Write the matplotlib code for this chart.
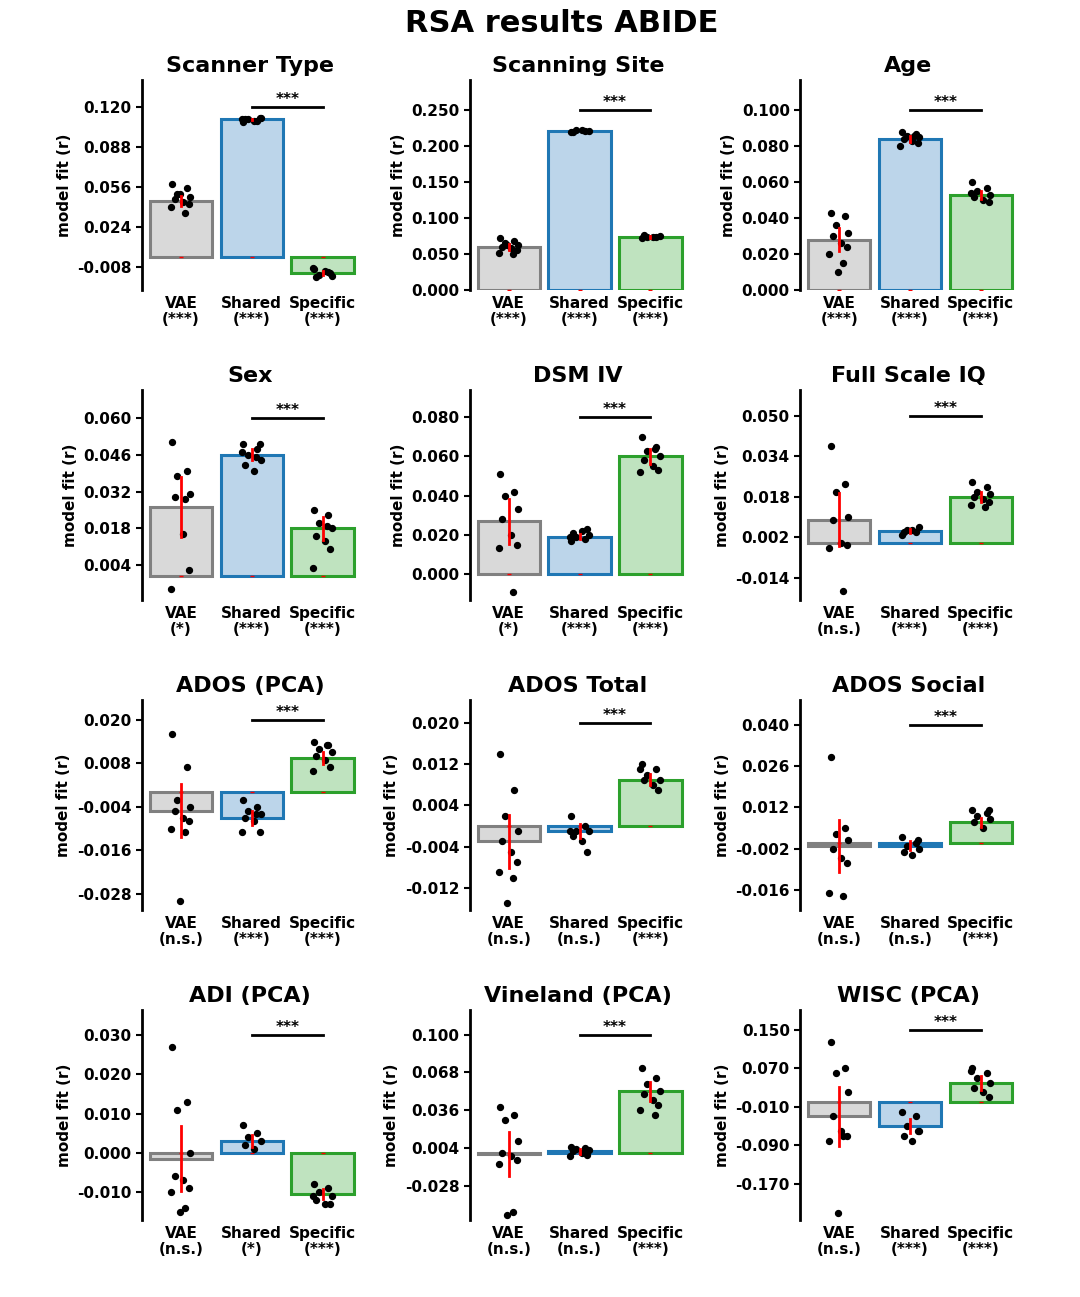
import numpy as np
import matplotlib
matplotlib.use("Agg")
import matplotlib.pyplot as plt

plt.rcParams['font.family'] = 'DejaVu Sans'
plt.rcParams['font.weight'] = 'bold'

titles = ["Scanner Type", "Scanning Site", "Age", "Sex", "DSM IV", "Full Scale IQ",
          "ADOS (PCA)", "ADOS Total", "ADOS Social", "ADI (PCA)", "Vineland (PCA)", "WISC (PCA)"]
categories = ["VAE", "Shared", "Specific"]

means = [[0.045, 0.110, -0.0125], [0.060, 0.221, 0.074], [0.028, 0.084, 0.053],
         [0.026, 0.046, 0.018], [0.027, 0.019, 0.060], [0.009, 0.0045, 0.018],
         [-0.005, -0.007, 0.0095], [-0.003, -0.001, 0.009], [-0.001, -0.001, 0.007],
         [-0.0015, 0.003, -0.0105], [-0.001, 0.001, 0.052], [-0.030, -0.050, 0.040]]

points = [
    [[0.058, 0.055, 0.050, 0.048, 0.046, 0.044, 0.042, 0.040, 0.035, 0.050],
     [0.108, 0.109, 0.110, 0.111, 0.110, 0.109, 0.111, 0.110],
     [-0.010, -0.012, -0.014, -0.015, -0.016, -0.011, -0.013, -0.009]],
    [[0.072, 0.068, 0.065, 0.062, 0.060, 0.058, 0.055, 0.052, 0.050, 0.063],
     [0.220, 0.221, 0.222, 0.221, 0.220, 0.222],
     [0.072, 0.073, 0.074, 0.075, 0.076, 0.074]],
    [[0.043, 0.041, 0.036, 0.032, 0.030, 0.026, 0.024, 0.020, 0.015, 0.010],
     [0.088, 0.087, 0.086, 0.085, 0.084, 0.083, 0.082, 0.080, 0.086],
     [0.060, 0.057, 0.055, 0.053, 0.052, 0.050, 0.049, 0.054]],
    [[0.051, 0.040, 0.038, 0.031, 0.030, 0.016, 0.002, -0.005, 0.029],
     [0.050, 0.048, 0.046, 0.044, 0.042, 0.040, 0.050, 0.047, 0.045],
     [0.025, 0.023, 0.020, 0.018, 0.015, 0.013, 0.010, 0.003, 0.019]],
    [[0.051, 0.042, 0.040, 0.033, 0.028, 0.020, 0.015, 0.013, -0.009],
     [0.017, 0.018, 0.019, 0.020, 0.021, 0.022, 0.023, 0.019],
     [0.070, 0.065, 0.063, 0.060, 0.058, 0.055, 0.053, 0.052, 0.064]],
    [[0.038, 0.023, 0.020, 0.010, 0.009, 0.000, -0.001, -0.002, -0.019],
     [0.003, 0.004, 0.005, 0.006, 0.004, 0.005],
     [0.024, 0.022, 0.020, 0.019, 0.018, 0.017, 0.016, 0.015, 0.014]],
    [[0.016, 0.007, -0.002, -0.004, -0.005, -0.007, -0.008, -0.010, -0.011, -0.030],
     [-0.002, -0.004, -0.005, -0.006, -0.007, -0.008, -0.011, -0.011, -0.006],
     [0.014, 0.013, 0.012, 0.011, 0.010, 0.009, 0.007, 0.006, 0.013]],
    [[0.014, 0.007, 0.002, -0.001, -0.003, -0.005, -0.007, -0.009, -0.010, -0.015],
     [0.002, 0.000, -0.001, -0.001, -0.002, -0.003, -0.005, -0.001],
     [0.012, 0.011, 0.010, 0.009, 0.009, 0.008, 0.007, 0.011]],
    [[0.029, 0.005, 0.003, 0.001, -0.002, -0.005, -0.007, -0.017, -0.018],
     [0.002, 0.000, -0.001, -0.002, -0.003, -0.004, 0.001],
     [0.011, 0.010, 0.009, 0.008, 0.007, 0.005, 0.011]],
    [[0.027, 0.013, 0.011, 0.000, -0.006, -0.007, -0.009, -0.010, -0.014, -0.015],
     [0.007, 0.005, 0.004, 0.003, 0.002, 0.001],
     [-0.008, -0.009, -0.010, -0.011, -0.012, -0.013, -0.013, -0.011]],
    [[0.039, 0.032, 0.028, 0.010, 0.000, -0.003, -0.006, -0.010, -0.050, -0.053],
     [0.005, 0.004, 0.003, 0.002, 0.001, 0.000, -0.002, -0.003],
     [0.072, 0.063, 0.058, 0.052, 0.050, 0.045, 0.040, 0.036, 0.032]],
    [[0.125, 0.070, 0.060, 0.020, -0.030, -0.060, -0.070, -0.080, -0.070, -0.230],
     [-0.020, -0.030, -0.050, -0.060, -0.070, -0.080, -0.060],
     [0.070, 0.060, 0.050, 0.040, 0.030, 0.020, 0.010, 0.065]],
]

yticks = [[-0.008, 0.024, 0.056, 0.088, 0.120], [0.0, 0.05, 0.10, 0.15, 0.20, 0.25],
          [0.0, 0.02, 0.04, 0.06, 0.08, 0.10], [0.004, 0.018, 0.032, 0.046, 0.060],
          [0.0, 0.02, 0.04, 0.06, 0.08], [-0.014, 0.002, 0.018, 0.034, 0.050],
          [-0.028, -0.016, -0.004, 0.008, 0.020], [-0.012, -0.004, 0.004, 0.012, 0.020],
          [-0.016, -0.002, 0.012, 0.026, 0.040], [-0.01, 0.0, 0.01, 0.02, 0.03],
          [-0.028, 0.004, 0.036, 0.068, 0.100], [-0.17, -0.09, -0.01, 0.07, 0.15]]
ylims = [(-0.0264, 0.1416), (0.0, 0.292), (0.0, 0.117), (-0.0093, 0.0707),
         (-0.0133, 0.094), (-0.0227, 0.0603), (-0.0324, 0.0255), (-0.0163, 0.0245),
         (-0.0228, 0.0485), (-0.0171, 0.0364), (-0.057, 0.121), (-0.245, 0.1916)]
sig_y = [0.120, 0.250, 0.100, 0.060, 0.080, 0.050, 0.020, 0.020, 0.040, 0.030, 0.100, 0.150]
sig = [["***", "***", "***"], ["***", "***", "***"], ["***", "***", "***"],
       ["*", "***", "***"], ["*", "***", "***"], ["n.s.", "***", "***"],
       ["n.s.", "***", "***"], ["n.s.", "n.s.", "***"], ["n.s.", "n.s.", "***"],
       ["n.s.", "*", "***"], ["n.s.", "n.s.", "***"], ["n.s.", "***", "***"]]

fills = ["#d9d9d9", "#bcd5ea", "#bfe3bf"]
edges = ["#808080", "#1f77b4", "#2ca02c"]
jit = [-0.12, 0.08, -0.05, 0.13, -0.09, 0.03, 0.11, -0.14, 0.06, -0.02]

fig = plt.figure(figsize=(10.8, 12.97), dpi=100)
fig.text(0.52, 0.982, "RSA results ABIDE", ha="center", va="center", fontsize=22, fontweight="bold")
lefts = [0.1315, 0.435, 0.741]
bottoms = [0.7764, 0.5374, 0.2984, 0.0594]

for i in range(12):
    r, c = divmod(i, 3)
    ax = fig.add_axes([lefts[c], bottoms[r], 0.2, 0.162])
    xs = np.arange(3)
    ax.bar(xs, means[i], width=0.88, color=fills, edgecolor=edges, linewidth=2.2, zorder=1)
    for k in range(3):
        p = np.array(points[i][k])
        xj = k + np.array(jit[:len(p)])
        ax.scatter(xj, p, s=18, color="black", zorder=3)
        err = 2 * p.std() / np.sqrt(len(p))
        ax.plot([k, k], [means[i][k] - err, means[i][k] + err], color="red", lw=2, zorder=4)
        ax.plot([k], [0], marker="_", color="red", ms=3, zorder=2)
    ax.set_ylim(*ylims[i])
    ax.set_xlim(-0.55, 2.5)
    ax.set_yticks(yticks[i])
    ax.set_yticklabels([f"{v:.3f}" for v in yticks[i]], fontsize=11, fontweight="bold")
    ax.set_xticks(xs)
    ax.set_xticklabels([f"{categories[k]}\n({sig[i][k]})" for k in range(3)],
                       fontsize=11, fontweight="bold", linespacing=1.1)
    ax.tick_params(axis="x", length=0, pad=4)
    ax.tick_params(axis="y", width=1.5, length=4)
    for s in ["top", "right", "bottom"]:
        ax.spines[s].set_visible(False)
    ax.spines["left"].set_linewidth(2)
    ax.set_ylabel("model fit (r)", fontsize=11, fontweight="bold")
    ax.set_title(titles[i], fontsize=16, fontweight="bold", pad=6)
    ax.plot([1, 2], [sig_y[i], sig_y[i]], color="black", lw=2, clip_on=False)
    ax.text(1.5, sig_y[i], "***", ha="center", va="bottom", fontsize=11, fontweight="bold")

fig.savefig("out.png", dpi=100)
